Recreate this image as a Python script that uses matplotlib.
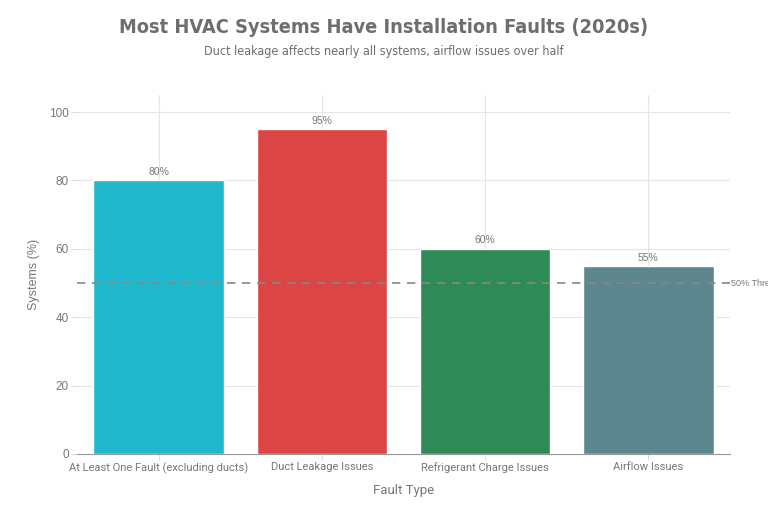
import matplotlib
matplotlib.use("Agg")
import matplotlib.pyplot as plt

categories = ["At Least One Fault (excluding ducts)", "Duct Leakage Issues",
              "Refrigerant Charge Issues", "Airflow Issues"]
values = [80, 95, 60, 55]
colors = ["#1FB8CD", "#DB4545", "#2E8B57", "#5D878F"]
threshold = 50

fig = plt.figure(figsize=(7.68, 5.12), dpi=100)
ax = fig.add_axes([0.1003, 0.1133, 0.8502, 0.7012])

grey = "#6E6E6E"
x = range(len(categories))
bars = ax.bar(x, values, width=0.8, color=colors, edgecolor="white", linewidth=1, zorder=3)

for b, v in zip(bars, values):
    ax.text(b.get_x() + b.get_width() / 2, v + 1, f"{v}%", ha="center", va="bottom",
            fontsize=7.5, color="#777777", family="Liberation Sans", zorder=4)

ax.axhline(threshold, color="#888888", linestyle=(0, (5, 4)), linewidth=1.2, zorder=4)
ax.text(1.002, threshold, "50% Threshold", transform=ax.get_yaxis_transform(),
        ha="left", va="center", fontsize=6.5, color="#777777", family="Liberation Sans",
        clip_on=False)

ax.set_xlim(-0.5, 3.5)
ax.set_ylim(0, 105)
ax.set_yticks([0, 20, 40, 60, 80, 100])
ax.set_xticks(list(x))
ax.set_xticklabels(categories)
ax.grid(True, color="#E5E5E5", linewidth=0.8, zorder=0)
for s in ["top", "right", "left"]:
    ax.spines[s].set_visible(False)
ax.spines["bottom"].set_color("#999999")
ax.tick_params(axis="both", colors="#DDDDDD", labelcolor="#777777", length=4, pad=2)
for lab in ax.get_xticklabels():
    lab.set_family("Roboto")
    lab.set_fontsize(8)
for lab in ax.get_yticklabels():
    lab.set_family("Liberation Sans")
    lab.set_fontsize(8.5)

ax.set_xlabel("Fault Type", fontsize=9.5, color="#777777", family="Roboto", labelpad=7)
ax.set_ylabel("Systems (%)", fontsize=9, color="#777777", family="Liberation Sans", labelpad=6)

fig.text(0.5, 0.947, "Most HVAC Systems Have Installation Faults (2020s)", ha="center",
         va="center", fontsize=14.3, fontweight="bold", fontstretch="condensed",
         color=grey, family="DejaVu Sans")
fig.text(0.5, 0.9, "Duct leakage affects nearly all systems, airflow issues over half",
         ha="center", va="center", fontsize=9, fontstretch="condensed", color=grey,
         family="DejaVu Sans")

fig.savefig("out.png", dpi=100)
